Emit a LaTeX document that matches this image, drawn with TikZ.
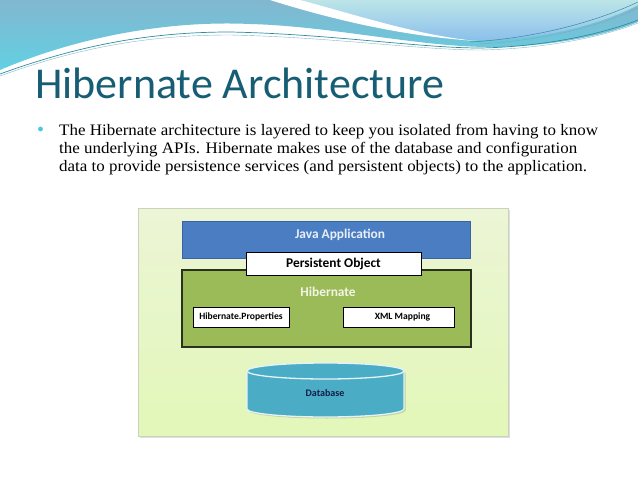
\documentclass[tikz,border=0pt]{standalone}
\usepackage{fontspec}
\setmainfont{Liberation Serif}[FakeStretch=1.06]
\newfontfamily\titlefont{Carlito}
\newfontfamily\labelfont{Carlito}[BoldFont={Carlito Bold}]
\usetikzlibrary{shadows}
\definecolor{titleteal}{RGB}{23,94,117}
\definecolor{waveA}{RGB}{130,183,208}
\definecolor{waveAb}{RGB}{98,208,226}
\definecolor{waveC}{RGB}{188,229,232}
\definecolor{waveCb}{RGB}{140,192,236}
\definecolor{waveline}{RGB}{50,140,160}
\definecolor{bulletcyan}{RGB}{75,200,220}
\definecolor{panelA}{RGB}{236,245,214}
\definecolor{panelB}{RGB}{226,247,184}
\definecolor{panelborder}{RGB}{200,210,188}
\definecolor{javablue}{RGB}{74,125,194}
\definecolor{javaborder}{RGB}{58,100,165}
\definecolor{hibgreen}{RGB}{155,187,89}
\definecolor{hibborder}{RGB}{40,50,30}
\definecolor{dbblue}{RGB}{75,172,198}
\definecolor{dbtext}{RGB}{20,30,70}
\tikzset{
  x=1pt, y=-1pt,
  bodyline/.style={anchor=base west, inner sep=0pt, font=\fontsize{16}{18}\selectfont},
  whitebox/.style={draw=black, line width=1pt, fill=white, inner sep=0pt,
     drop shadow={opacity=0.35, shadow xshift=1.2pt, shadow yshift=-1.2pt}},
  smalllabel/.style={font=\labelfont\bfseries\fontsize{9.6}{11}\selectfont},
}
\begin{document}
\begin{tikzpicture}
\useasboundingbox (0,0) rectangle (638,479);
\fill[white] (0,0) rectangle (638,479);
% --- header waves
\shade[top color=waveA, bottom color=waveAb]
  (0,0) -- (638,0) -- (638,22) .. controls (600,38) and (540,47) .. (490,47)
  .. controls (420,47) and (330,26) .. (250,24)
  .. controls (160,20) and (70,40) .. (0,70) -- cycle;
\shade[top color=waveC, bottom color=waveCb]
  (295,0) -- (638,0) -- (638,5) .. controls (600,25) and (540,40) .. (480,40)
  .. controls (420,38) and (360,18) .. (295,0) -- cycle;
\fill[white] (270,0) -- (300,0) .. controls (360,16) and (420,36) .. (478,41)
  .. controls (410,37) and (340,22) .. (270,0) -- cycle;
\draw[waveline, line width=0.7pt]
  (0,74) .. controls (80,45) and (150,32) .. (230,32)
  .. controls (330,34) and (420,48) .. (480,48)
  .. controls (540,47) and (600,35) .. (638,20);
\draw[waveline!60, line width=0.4pt]
  (0,76) .. controls (80,47) and (150,35) .. (230,35)
  .. controls (330,37) and (420,50) .. (480,50)
  .. controls (540,49) and (600,38) .. (638,23);
\draw[waveline, line width=0.5pt] (470,42) .. controls (540,38) and (600,20) .. (638,2);
\draw[waveline!70, line width=0.4pt] (480,44) .. controls (550,40) and (605,24) .. (638,8);
% --- title
\node[anchor=base west, inner sep=0pt, text=titleteal,
      font=\titlefont\fontsize{44}{48}\selectfont] (title) at (35,98) {Hibernate Architecture};
% --- bullet text
\fill[bulletcyan] (40.5,129) circle (2.4);
\node[bodyline] (l1) at (59,135) {The Hibernate architecture is layered to keep you isolated from having to know};
\node[bodyline] (l2) at (59,153) {the underlying APIs. Hibernate makes use of the database and configuration};
\node[bodyline] (l3) at (59,171) {data to provide persistence services (and persistent objects) to the application.};
% --- diagram
\node[draw=panelborder, line width=0.8pt, top color=panelA, bottom color=panelB,
      minimum width=370pt, minimum height=228pt, inner sep=0pt,
      drop shadow={opacity=0.25, shadow xshift=1.5pt, shadow yshift=-1.5pt}] (panel) at (323,322) {};
\node[draw=javaborder, line width=0.8pt, fill=javablue, minimum width=288pt, minimum height=37pt,
      inner sep=0pt] (java) at (326,239.5) {};
\node[text=white!88!javablue, font=\labelfont\bfseries\fontsize{13.4}{15}\selectfont] (javalabel) at (340,235) {Java Application};
\node[draw=hibborder, line width=1.4pt, fill=hibgreen, minimum width=289pt, minimum height=77pt,
      inner sep=0pt, drop shadow={opacity=0.3, shadow xshift=1.2pt, shadow yshift=-1.2pt}] (hib) at (326.5,308.5) {};
\node[text=white!85!hibgreen, font=\labelfont\bfseries\fontsize{13.4}{15}\selectfont] (hiblabel) at (328,292) {Hibernate};
\node[whitebox, minimum width=175pt, minimum height=23pt,
      font=\labelfont\bfseries\fontsize{13.4}{15}\selectfont] (po) at (333.5,263.5) {Persistent Object};
\node[whitebox, minimum width=96pt, minimum height=20pt, smalllabel] (props) at (241,317) {Hibernate.Properties};
\node[whitebox, minimum width=111pt, minimum height=20pt, smalllabel] (xml) at (398.5,317) {\hspace{8pt}XML Mapping};
% database cylinder
\fill[black, opacity=0.15] (248.5,372.5) -- (248.5,410.5) arc[start angle=180, end angle=0, x radius=78.5, y radius=8]
   -- (405.5,372.5) -- cycle;
\filldraw[fill=dbblue, draw=white!85!dbblue, line width=1.3pt]
   (247,371) -- (247,409) arc[start angle=180, end angle=0, x radius=78.5, y radius=8]
   -- (404,371) arc[start angle=0, end angle=-180, x radius=78.5, y radius=8] -- cycle;
\draw[white!85!dbblue, line width=1.3pt] (247,371) arc[start angle=180, end angle=0, x radius=78.5, y radius=8];
\node[text=dbtext, font=\labelfont\bfseries\fontsize{10}{11}\selectfont] (db) at (325,393) {Database};
\end{tikzpicture}
\end{document}
